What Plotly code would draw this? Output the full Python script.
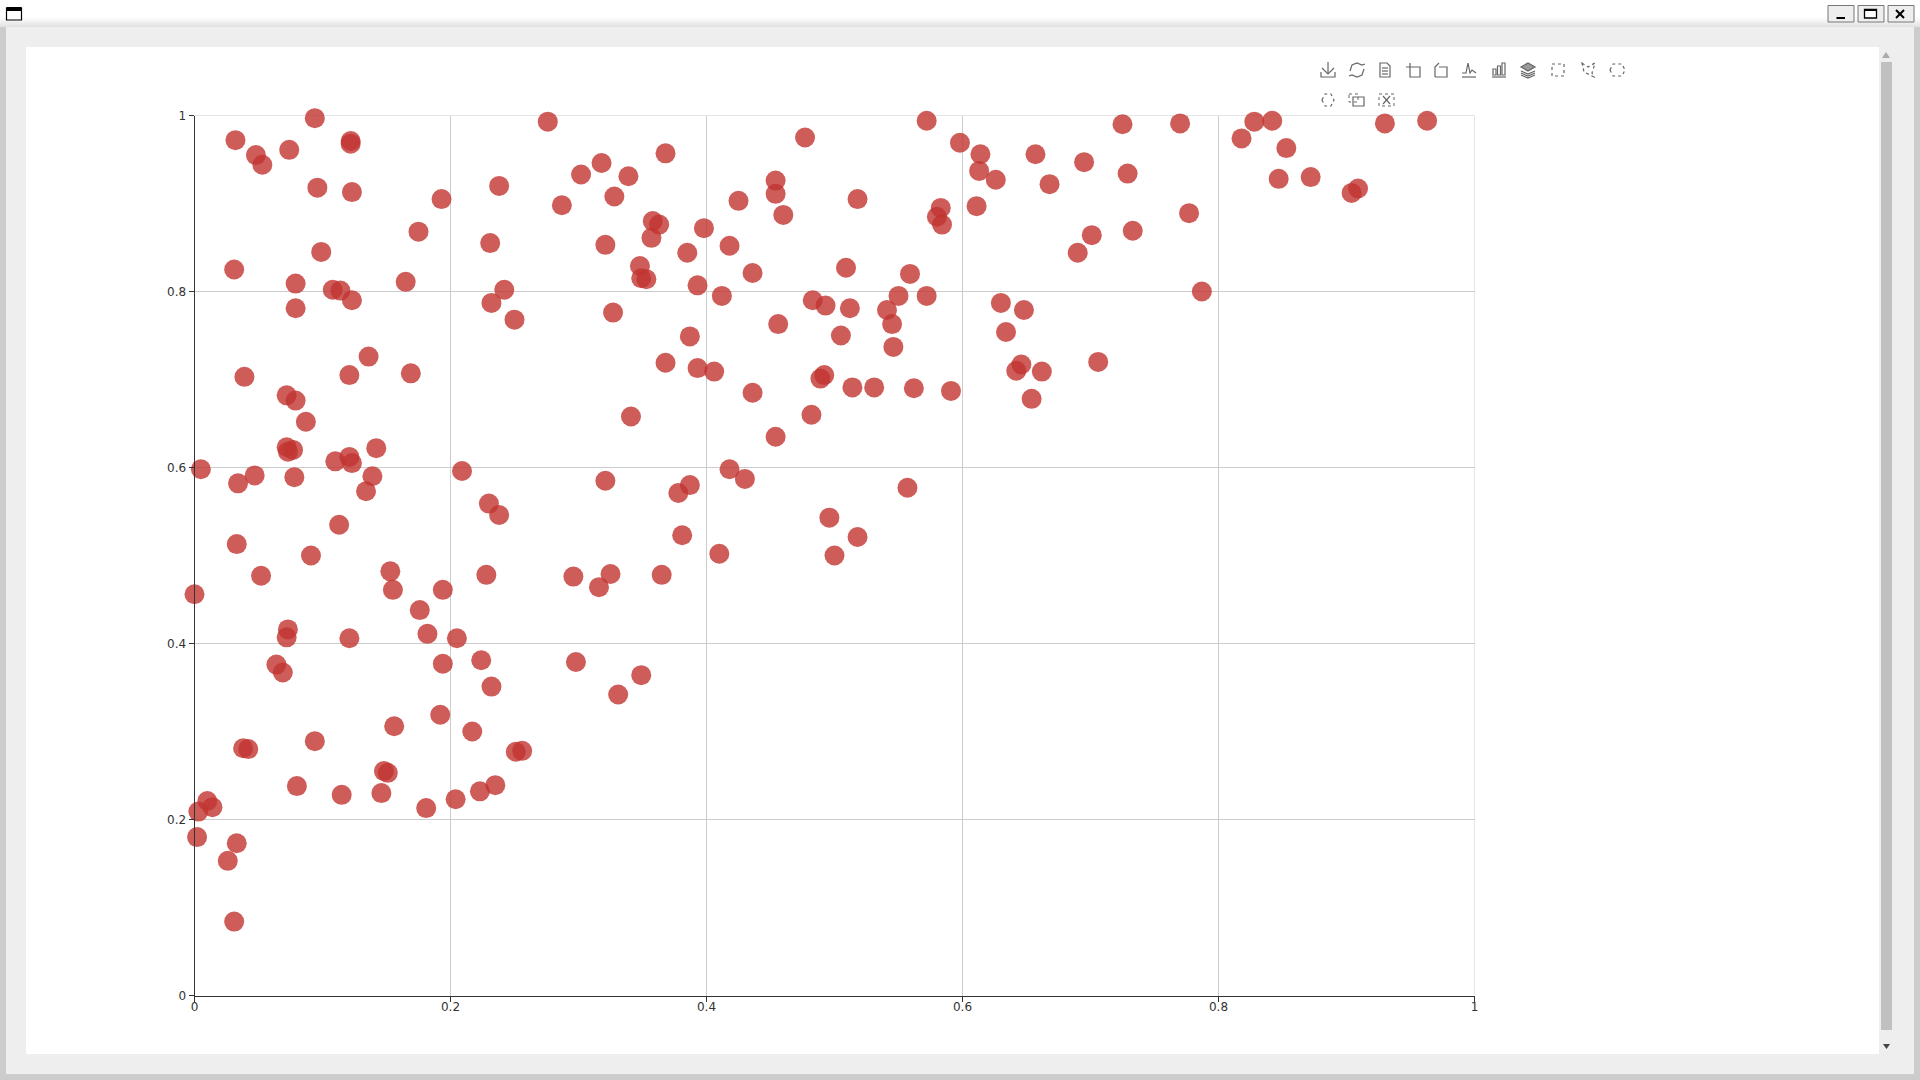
import plotly.graph_objects as go

W, H = 1920, 1080
x_values = [.094,.032,.122,.122,.048,.053,.074,.096,.123,.276,.302,.318,.339,.368,.328,.287,.193,.238,.175,.231,.321,.358,.363,.357,.398,.385,.418,.425,.454,.454,.460,.477,.518,.572,.598,.614,.613,.626,.657,.668,.695,.725,.729,.770,.818,.828,.842,.853,.847,.872,.904,.909,.930,.963,.777,.733,.701,.690,.787,.580,.583,.584,.611,.031,.099,.079,.079,.108,.114,.123,.165,.232,.242,.250,.348,.349,.353,.327,.393,.412,.436,.509,.483,.493,.512,.456,.387,.368,.393,.406,.505,.541,.545,.550,.559,.572,.546,.630,.648,.634,.646,.642,.662,.706,.654,.489,.492,.514,.531,.562,.591,.436,.482,.454,.341,.039,.121,.136,.169,.072,.079,.087,.072,.073,.077,.142,.121,.123,.110,.005,.034,.047,.078,.139,.134,.209,.230,.238,.321,.418,.430,.387,.378,.557,.496,.518,.500,.381,.410,.113,.033,.091,.052,.153,.155,.000,.194,.176,.228,.296,.316,.325,.365,.073,.072,.121,.182,.205,.064,.069,.194,.224,.232,.298,.349,.331,.192,.156,.217,.094,.038,.042,.251,.256,.148,.151,.080,.115,.146,.181,.204,.223,.235,.010,.003,.014,.002,.033,.026,.031]
y_values = [.997,.972,.971,.968,.955,.944,.961,.918,.913,.993,.933,.946,.931,.957,.908,.898,.905,.920,.868,.855,.853,.880,.876,.861,.872,.844,.852,.903,.926,.911,.887,.975,.905,.994,.969,.956,.937,.927,.956,.922,.947,.990,.934,.991,.974,.993,.994,.963,.928,.930,.912,.917,.991,.994,.889,.869,.864,.844,.800,.885,.895,.876,.897,.825,.845,.809,.781,.802,.801,.790,.811,.787,.802,.768,.829,.815,.814,.776,.807,.795,.821,.827,.790,.784,.781,.763,.749,.719,.713,.709,.750,.779,.763,.795,.820,.795,.737,.787,.779,.754,.717,.710,.709,.720,.678,.701,.705,.691,.691,.690,.687,.685,.660,.635,.658,.703,.705,.726,.707,.682,.676,.652,.623,.618,.620,.622,.612,.605,.607,.598,.582,.591,.589,.590,.573,.596,.559,.546,.585,.598,.587,.580,.571,.577,.543,.521,.500,.523,.502,.535,.513,.500,.477,.482,.461,.456,.461,.438,.478,.476,.464,.479,.478,.416,.407,.406,.411,.406,.376,.367,.377,.381,.351,.379,.364,.342,.319,.306,.300,.289,.281,.280,.277,.278,.255,.253,.238,.228,.230,.213,.223,.232,.239,.221,.209,.214,.180,.173,.153,.084]
tick_values = [0, 0.2, 0.4, 0.6, 0.8, 1]
tick_labels = ["0", "0.2", "0.4", "0.6", "0.8", "1"]

shapes = []
def px(v): return v / W
def py(v): return 1 - v / H

def rect(x0, y0, x1, y1, fill=None, line=None, lw=1):
    shapes.append(dict(type="rect", xref="paper", yref="paper", layer="below",
                       x0=px(x0), x1=px(x1), y0=py(y0), y1=py(y1),
                       fillcolor=fill or "rgba(0,0,0,0)",
                       line=dict(color=line or "rgba(0,0,0,0)", width=lw if line else 0)))

def path(points, color="#666", width=1.2, dash="solid", close=False, fill=None):
    d = "M " + " L ".join(f"{px(a):.5f},{py(b):.5f}" for a, b in points)
    if close:
        d += " Z"
    shapes.append(dict(type="path", xref="paper", yref="paper", layer="below", path=d,
                       fillcolor=fill or "rgba(0,0,0,0)",
                       line=dict(color=color, width=width, dash=dash)))

# window chrome
rect(0, 0, W, H, "#eeeeee")
rect(0, 0, W, 17, "#ffffff")
for i, c in enumerate(["#fdfdfd", "#fbfbfb", "#f8f8f8", "#f5f5f5", "#f2f2f2", "#efefef", "#ebebeb", "#e8e8e8", "#e5e5e5", "#e2e2e2"]):
    rect(0, 17 + i, W, 18 + i, c)
rect(0, 27, 6, H, "#cccccc")
rect(1914, 27, W, H, "#cccccc")
rect(0, 1074, W, H, "#cccccc")
rect(26, 47, 1879, 1054, "#ffffff")
rect(1881, 62, 1892, 1030, "#c0c0c0")
path([(1882, 58), (1890, 58), (1886, 52)], "#aaaaaa", 0, close=True, fill="#aaaaaa")
path([(1883, 1044), (1890, 1044), (1886.5, 1049)], "#444444", 0, close=True, fill="#444444")
# title-bar icon and buttons
rect(6.5, 8, 21.5, 20, "#ffffff", "#000000", 1.2)
rect(6.5, 7, 21.5, 11, "#000000")
for x0 in (1828, 1858, 1888):
    rect(x0, 5.5, x0 + 26, 22, "#eeeeee", "#777777", 1)
path([(1836.5, 18), (1845, 18)], "#000000", 2)
rect(1864.5, 9.5, 1876.5, 18, "#ffffff", "#000000", 1.3)
rect(1864.5, 9, 1876.5, 11, "#000000")
path([(1896, 10), (1904, 18)], "#000000", 2)
path([(1904, 10), (1896, 18)], "#000000", 2)

# toolbox icons
g = "#666666"
cx, cy = 1328, 70
path([(cx - 7, cy + 2), (cx - 7, cy + 7), (cx + 7, cy + 7), (cx + 7, cy + 2)], g)
path([(cx, cy - 8), (cx, cy + 4)], g)
path([(cx - 6, cy - 2), (cx, cy + 4), (cx + 6, cy - 2)], g)
cx = 1357
path([(cx - 7, cy + 1), (cx - 5, cy - 5), (cx, cy - 7), (cx + 5, cy - 5), (cx + 8, cy - 6)], g)
path([(cx + 7, cy - 1), (cx + 5, cy + 5), (cx, cy + 7), (cx - 5, cy + 5), (cx - 8, cy + 6)], g)
cx = 1385
path([(cx - 5, cy - 7), (cx + 2, cy - 7), (cx + 5, cy - 4), (cx + 5, cy + 7), (cx - 5, cy + 7)], g, close=True)
for dy in (-2, 1, 4):
    path([(cx - 3, cy + dy), (cx + 3, cy + dy)], g)
cx = 1413
path([(cx - 7, cy - 3), (cx + 7, cy - 3), (cx + 7, cy + 7), (cx - 3, cy + 7), (cx - 3, cy - 7)], g)
cx = 1441
path([(cx - 6, cy + 7), (cx + 6, cy + 7), (cx + 6, cy - 3), (cx - 2, cy - 3)], g)
path([(cx - 6, cy + 7), (cx - 6, cy - 3), (cx - 2, cy - 7)], g)
cx = 1469
path([(cx - 7, cy + 7), (cx + 7, cy + 7)], g)
path([(cx - 7, cy + 3), (cx - 3, cy + 3), (cx - 1, cy - 7), (cx + 1, cy + 3), (cx + 3, cy), (cx + 7, cy + 3)], g)
cx = 1499
path([(cx - 7, cy + 7), (cx + 7, cy + 7)], g)
rect(cx - 6, cy - 1, cx - 3, cy + 5, None, g, 1.2)
rect(cx - 1.5, cy - 4, cx + 1.5, cy + 5, None, g, 1.2)
rect(cx + 3, cy - 7, cx + 6, cy + 5, None, g, 1.2)
cx = 1528
path([(cx - 7, cy - 3), (cx, cy - 7), (cx + 7, cy - 3), (cx, cy + 1)], g, close=True, fill="#999999")
for dy in (1, 3, 5):
    path([(cx - 7, cy + dy), (cx, cy + dy + 3), (cx + 7, cy + dy)], g)
rect(1552, 64, 1564, 76, None, g, 1.2)
shapes[-1]["line"]["dash"] = "dot"
path([(1582, 63), (1588, 67), (1595, 63), (1592, 73), (1594, 77), (1584, 72)], g, dash="dot", close=True)
path([(1610, 70), (1613, 64), (1622, 64), (1625, 70), (1622, 76), (1613, 76)], g, dash="dot", close=True)
path([(1322, 100), (1325, 94), (1331, 94), (1334, 100), (1331, 106), (1325, 106)], g, dash="dot", close=True)
rect(1349, 94, 1358, 102, None, g, 1)
shapes[-1]["line"]["dash"] = "dot"
rect(1353, 97, 1364, 106, None, g, 1.2)
rect(1379, 94, 1394, 106, None, g, 1)
shapes[-1]["line"]["dash"] = "dot"
path([(1383, 96), (1390, 104)], g)
path([(1390, 96), (1383, 104)], g)

# the top and right gridlines that plotly leaves out at the axis ends
shapes.append(dict(type="line", xref="x", yref="y", layer="below",
                   x0=tick_values[0], x1=tick_values[-1], y0=tick_values[-1], y1=tick_values[-1],
                   line=dict(color="#cccccc", width=1)))
shapes.append(dict(type="line", xref="x", yref="y", layer="below",
                   x0=tick_values[-1], x1=tick_values[-1], y0=tick_values[0], y1=tick_values[-1],
                   line=dict(color="#cccccc", width=1)))

fig = go.Figure(go.Scatter(
    x=x_values, y=y_values, mode="markers", cliponaxis=False, hoverinfo="skip",
    marker=dict(size=20, color="#c23531", opacity=0.8, line=dict(width=0)),
))
axis = dict(range=[0, 1], tickmode="array", tickvals=tick_values, ticktext=tick_labels,
            showgrid=True, gridcolor="#cccccc", gridwidth=1, zeroline=False,
            showline=True, linecolor="#333333", linewidth=1,
            ticks="outside", ticklen=5, tickcolor="#333333", tickwidth=1,
            tickfont=dict(family="DejaVu Sans, sans-serif", size=12, color="#333333"))
fig.update_layout(
    width=W, height=H, margin=dict(l=0, r=0, t=0, b=0, pad=0, autoexpand=False), autosize=False,
    paper_bgcolor="#ffffff", plot_bgcolor="rgba(0,0,0,0)", showlegend=False,
    shapes=shapes,
    xaxis=dict(domain=[194.5 / W, 1474.5 / W], ticklabelstandoff=-5, **axis),
    yaxis=dict(domain=[(H - 995.5) / H, (H - 115.5) / H], **axis),
)
fig.write_html("out.html", config={"displayModeBar": False},
               post_script="document.body.style.margin='0';document.body.style.overflow='hidden';")
